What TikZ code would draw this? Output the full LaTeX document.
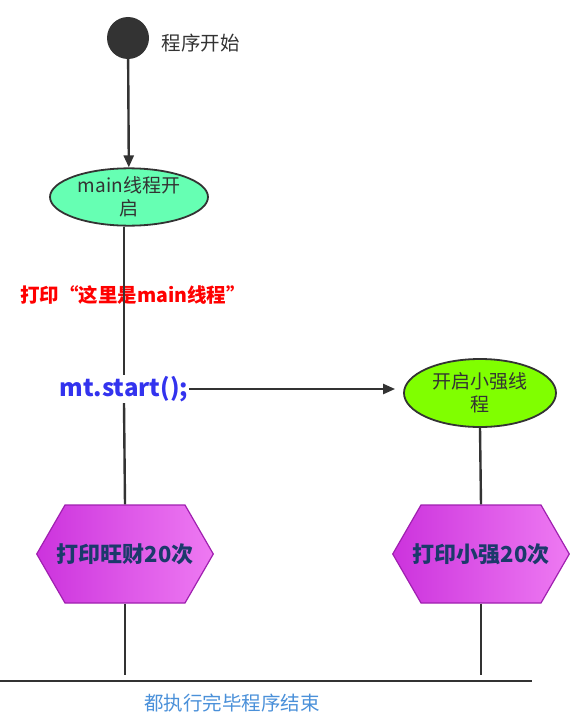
\documentclass[tikz,border=0pt]{standalone}
\usepackage{fontspec}
\setmainfont{Noto Sans CJK SC}
\usetikzlibrary{shapes.geometric,shapes.symbols,arrows.meta}
\definecolor{ink}{HTML}{333333}
\definecolor{mint}{HTML}{66FFB3}
\definecolor{lime}{HTML}{80FF00}
\definecolor{hexl}{HTML}{CC33DD}
\definecolor{hexr}{HTML}{EE7AF2}
\definecolor{hexline}{HTML}{A020B0}
\definecolor{navy}{HTML}{1B3A6B}
\definecolor{codeblue}{HTML}{3333EE}
\definecolor{endblue}{HTML}{4A90D9}
\newcommand{\hexlabel}[1]{\makebox[120pt][c]{#1}}

\begin{document}
\begin{tikzpicture}[x=1pt, y=-1pt, >={Triangle[length=12pt,width=10pt]},
  wire/.style={draw=ink, line width=2.4pt},
  oval/.style={ellipse, draw=ink, line width=1.8pt, align=center,
               font=\fontsize{19}{23}\selectfont, text=ink, inner sep=0pt},
  hexbox/.style={signal, signal to=east and west, signal pointer angle=120,
                 draw=hexline, line width=1.2pt, left color=hexl, right color=hexr,
                 minimum height=98pt, inner sep=0pt,
                 font=\fontsize{22}{26}\selectfont\bfseries, text=navy}]
  \useasboundingbox (0,0) rectangle (582,725);
  \node[circle, fill=ink, minimum size=42pt, inner sep=0pt] (start) at (128,38) {};
  \node[anchor=west, text=ink, font=\fontsize{19.5}{22}\selectfont] (startlab) at (158,43) {程序开始};
  \node[oval, fill=mint, minimum width=158pt, minimum height=54pt] (mainth) at (129,197)
    {main线程开\\启};
  \node[text=red, font=\fontsize{19.5}{22}\selectfont\bfseries] (say) at (133,295)
    {打印“这里是main线程”};
  \node[text=codeblue, font=\fontsize{24}{28}\selectfont\bfseries, inner sep=1pt] (mt) at (124,389)
    {mt.start();};
  \node[oval, fill=lime, minimum width=152pt, minimum height=68pt] (qiang) at (480,393)
    {开启小强线\\程};
  \node[hexbox] (wangcai) at (125,554) {\hexlabel{打印旺财20次}};
  \node[hexbox] (xiaoqiang) at (481,554) {\hexlabel{打印小强20次}};
  \coordinate (endl) at (125,675);
  \coordinate (endr) at (481,675);
  \node[text=endblue, font=\fontsize{19.5}{22}\selectfont] (done) at (232,703) {都执行完毕程序结束};
  \draw[wire, ->] (start) -- (mainth);
  \draw[wire] (mainth.south -| mt.north) -- (mt.north);
  \draw[wire] (mt.south) -- (wangcai.north);
  \draw[wire, ->, shorten >=8pt] (mt.east) -- (qiang.west |- mt.east);
  \draw[wire] (qiang.south) -- (xiaoqiang.north);
  \draw[wire] (wangcai.south) -- (endl);
  \draw[wire] (xiaoqiang.south) -- (endr);
  \draw[wire] (0,681) -- (532,681);
\end{tikzpicture}
\end{document}
